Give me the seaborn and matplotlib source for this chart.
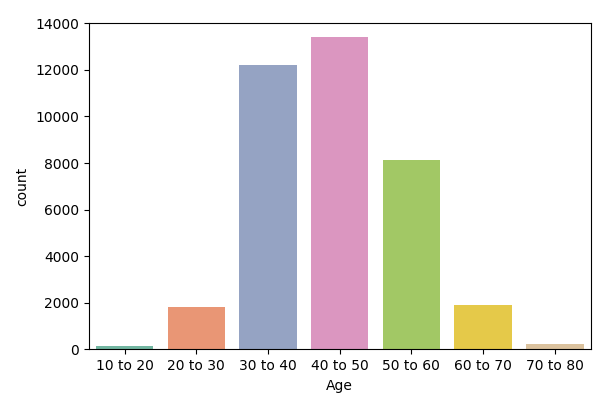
import matplotlib
matplotlib.use("Agg")
import matplotlib.pyplot as plt
import seaborn as sns
import pandas as pd

categories = ["10 to 20", "20 to 30", "30 to 40", "40 to 50", "50 to 60", "60 to 70", "70 to 80"]
counts = [155, 1826, 12190, 13410, 8117, 1900, 216]

df = pd.DataFrame({"Age": categories, "count": counts})

fig = plt.figure(figsize=(6.12, 4.01), dpi=100)
ax = fig.add_axes([88.7/612, 1-349.3/401, (590.7-88.7)/612, (349.3-23.3)/401])
sns.barplot(data=df, x="Age", y="count", hue="Age", palette="Set2", legend=False, ax=ax, saturation=0.75)
ax.set_ylim(0, 14000)
ax.set_yticks(range(0, 14001, 2000))
ax.set_xlabel("Age")
ax.set_ylabel("count")
fig.savefig("out.png", dpi=100)
